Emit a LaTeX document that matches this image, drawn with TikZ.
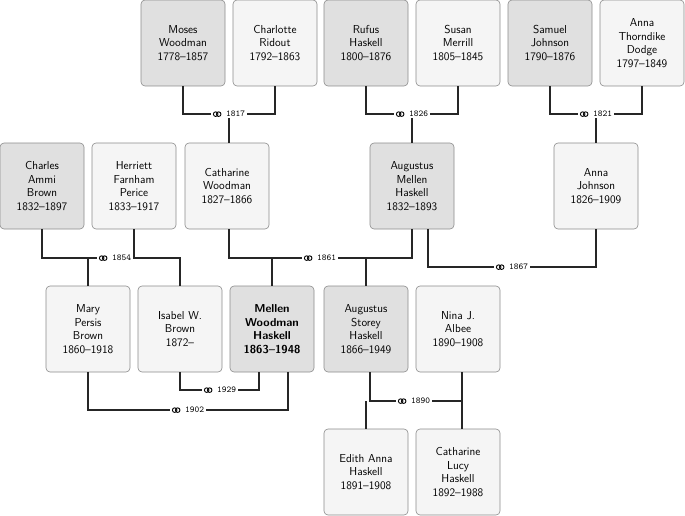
\documentclass[tikz,border=0pt]{standalone}
\begin{document}
\newcommand{\ringsym}{\tikz[baseline=-2.6pt,line width=0.9pt]{\draw (0,0) circle (2.3pt); \draw (3pt,0) circle (2.3pt);}}
\begin{tikzpicture}[x=1pt,y=-1pt,
  box/.style={draw=black!45,rounded corners=4pt,minimum width=84pt,minimum height=86pt,inner sep=1pt,align=center,font=\sffamily\fontsize{11.5}{13.5}\selectfont,line width=0.6pt},
  dk/.style={box,fill=black!12},
  lt/.style={box,fill=black!4},
  mar/.style={fill=white,inner sep=1.5pt,font=\ttfamily\fontsize{9}{10}\selectfont},
  ln/.style={line width=1.1pt,black!85}]
\useasboundingbox (0,0) rectangle (685,516);
% row 1
\node[dk] (moses) at (183,43) {Moses\\Woodman\\1778--1857};
\node[lt] (charl) at (275,43) {Charlotte\\Ridout\\1792--1863};
\node[dk] (rufus) at (366,43) {Rufus\\Haskell\\1800--1876};
\node[lt] (susan) at (458,43) {Susan\\Merrill\\1805--1845};
\node[dk] (samuel) at (550,43) {Samuel\\Johnson\\1790--1876};
\node[lt] (annatd) at (642,43) {Anna\\Thorndike\\Dodge\\1797--1849};
% row 2
\node[dk] (charles) at (42,186) {Charles\\Ammi\\Brown\\1832--1897};
\node[lt] (herr) at (134,186) {Herriett\\Farnham\\Perice\\1833--1917};
\node[lt] (cath) at (227,186) {Catharine\\Woodman\\1827--1866};
\node[dk] (augm) at (412,186) {Augustus\\Mellen\\Haskell\\1832--1893};
\node[lt] (annaj) at (596,186) {Anna\\Johnson\\1826--1909};
% row 3
\node[lt] (mary) at (88,329) {Mary\\Persis\\Brown\\1860--1918};
\node[lt] (isabel) at (180,329) {Isabel W.\\Brown\\1872--};
\node[dk,font=\sffamily\bfseries\fontsize{11.5}{13.5}\selectfont] (mellen) at (272,329) {Mellen\\Woodman\\Haskell\\1863--1948};
\node[dk] (augs) at (366,329) {Augustus\\Storey\\Haskell\\1866--1949};
\node[lt] (nina) at (458,329) {Nina J.\\Albee\\1890--1908};
% row 4
\node[lt] (edith) at (366,472) {Edith Anna\\Haskell\\1891--1908};
\node[lt] (clucy) at (458,472) {Catharine\\Lucy\\Haskell\\1892--1988};
% connectors
\draw[ln] (moses.south) |- (charl.south |- 0,114) -- (charl.south);
\draw[ln] (229,114) -- (cath.north -| 229,0);
\node[mar] (m1817) at (229,114) {\ringsym\ 1817};
\draw[ln] (rufus.south) |- (susan.south |- 0,114) -- (susan.south);
\draw[ln] (412,114) -- (augm.north);
\node[mar] (m1826) at (412,114) {\ringsym\ 1826};
\draw[ln] (samuel.south) |- (annatd.south |- 0,114) -- (annatd.south);
\draw[ln] (596,114) -- (annaj.north);
\node[mar] (m1821) at (596,114) {\ringsym\ 1821};
% 1854
\draw[ln] (charles.south) |- (180,258) -- (isabel.north);
\draw[ln] (herr.south) -- (134,258);
\draw[ln] (88,258) -- (mary.north);
\node[mar] (m1854) at (115,258) {\ringsym\ 1854};
% 1861
\draw[ln] (cath.south -| 229,0) |- (augm.south |- 0,258) -- (augm.south);
\draw[ln] (272,258) -- (mellen.north);
\draw[ln] (366,258) -- (augs.north);
\node[mar] (m1861) at (320,258) {\ringsym\ 1861};
% 1867
\draw[ln] (augm.south -| 428,0) |- (596,267) -- (annaj.south);
\node[mar] (m1867) at (512,267) {\ringsym\ 1867};
% 1929
\draw[ln] (isabel.south) |- (259,390) -- (mellen.south -| 259,0);
\node[mar] (m1929) at (220,390) {\ringsym\ 1929};
% 1902
\draw[ln] (mary.south) |- (288,410) -- (mellen.south -| 288,0);
\node[mar] (m1902) at (188,410) {\ringsym\ 1902};
% 1890
\draw[ln] (augs.south -| 370,0) |- (462,401) -- (nina.south -| 462,0);
\draw[ln] (366,401) -- (edith.north);
\draw[ln] (462,401) -- (clucy.north -| 462,0);
\node[mar] (m1890) at (414,401) {\ringsym\ 1890};
\end{tikzpicture}
\end{document}
